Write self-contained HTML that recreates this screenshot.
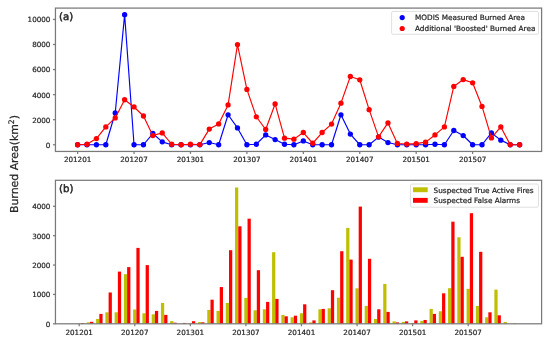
<!DOCTYPE html><html><head><meta charset="utf-8"><style>html,body{margin:0;padding:0;background:#fff;}svg{display:block;}text{font-family:"DejaVu Sans","Liberation Sans",sans-serif;fill:#262626;stroke:#262626;stroke-width:0.22px;text-rendering:geometricPrecision;}</style></head><body>
<svg width="550" height="344" viewBox="0 0 550 344">
<rect width="550" height="344" fill="#fff"/>
<polyline points="77.6,144.75 87,144.75 96.41,144.75 105.81,144.75 115.22,112.97 124.62,14.64 134.03,144.75 143.44,144.75 152.84,133.52 162.25,141.87 171.65,144.75 181.06,144.75 190.46,144.75 199.86,144.75 209.27,142.54 218.67,144.75 228.08,114.78 237.48,127.91 246.89,144.75 256.29,144.25 265.7,134.93 275.11,139.54 284.51,144.25 293.91,144.75 303.32,140.94 312.72,144.75 322.13,144.75 331.53,144.75 340.94,114.78 350.35,134.12 359.75,144.75 369.15,144.75 378.56,137.11 387.96,142.54 397.37,144.75 406.77,144.75 416.18,144.75 425.58,144.75 434.99,144.25 444.39,144.75 453.8,130.52 463.2,135.53 472.61,144.75 482.01,144.75 491.42,132.92 500.82,140.14 510.23,144.75 519.63,144.75" fill="none" stroke="#0000ff" stroke-width="1.15" stroke-linejoin="round"/>
<g fill="#0000ff"><circle cx="77.6" cy="144.75" r="2.65"/><circle cx="87" cy="144.75" r="2.65"/><circle cx="96.41" cy="144.75" r="2.65"/><circle cx="105.81" cy="144.75" r="2.65"/><circle cx="115.22" cy="112.97" r="2.65"/><circle cx="124.62" cy="14.64" r="2.65"/><circle cx="134.03" cy="144.75" r="2.65"/><circle cx="143.44" cy="144.75" r="2.65"/><circle cx="152.84" cy="133.52" r="2.65"/><circle cx="162.25" cy="141.87" r="2.65"/><circle cx="171.65" cy="144.75" r="2.65"/><circle cx="181.06" cy="144.75" r="2.65"/><circle cx="190.46" cy="144.75" r="2.65"/><circle cx="199.86" cy="144.75" r="2.65"/><circle cx="209.27" cy="142.54" r="2.65"/><circle cx="218.67" cy="144.75" r="2.65"/><circle cx="228.08" cy="114.78" r="2.65"/><circle cx="237.48" cy="127.91" r="2.65"/><circle cx="246.89" cy="144.75" r="2.65"/><circle cx="256.29" cy="144.25" r="2.65"/><circle cx="265.7" cy="134.93" r="2.65"/><circle cx="275.11" cy="139.54" r="2.65"/><circle cx="284.51" cy="144.25" r="2.65"/><circle cx="293.91" cy="144.75" r="2.65"/><circle cx="303.32" cy="140.94" r="2.65"/><circle cx="312.72" cy="144.75" r="2.65"/><circle cx="322.13" cy="144.75" r="2.65"/><circle cx="331.53" cy="144.75" r="2.65"/><circle cx="340.94" cy="114.78" r="2.65"/><circle cx="350.35" cy="134.12" r="2.65"/><circle cx="359.75" cy="144.75" r="2.65"/><circle cx="369.15" cy="144.75" r="2.65"/><circle cx="378.56" cy="137.11" r="2.65"/><circle cx="387.96" cy="142.54" r="2.65"/><circle cx="397.37" cy="144.75" r="2.65"/><circle cx="406.77" cy="144.75" r="2.65"/><circle cx="416.18" cy="144.75" r="2.65"/><circle cx="425.58" cy="144.75" r="2.65"/><circle cx="434.99" cy="144.25" r="2.65"/><circle cx="444.39" cy="144.75" r="2.65"/><circle cx="453.8" cy="130.52" r="2.65"/><circle cx="463.2" cy="135.53" r="2.65"/><circle cx="472.61" cy="144.75" r="2.65"/><circle cx="482.01" cy="144.75" r="2.65"/><circle cx="491.42" cy="132.92" r="2.65"/><circle cx="500.82" cy="140.14" r="2.65"/><circle cx="510.23" cy="144.75" r="2.65"/><circle cx="519.63" cy="144.75" r="2.65"/></g>
<polyline points="77.6,144.75 87,144.25 96.41,138.54 105.81,126.91 115.22,117.89 124.62,99.74 134.03,106.96 143.44,115.98 152.84,135.53 162.25,132.92 171.65,144.25 181.06,144.75 190.46,144.25 199.86,144.62 209.27,129.11 218.67,123.9 228.08,104.95 237.48,44.61 246.89,89.42 256.29,116.78 265.7,129.51 275.11,103.95 284.51,138.13 293.91,139.14 303.32,132.52 312.72,143.25 322.13,132.52 331.53,124.1 340.94,103.15 350.35,76.49 359.75,79.79 369.15,109.67 378.56,136.93 387.96,122.9 397.37,143.45 406.77,144.05 416.18,143.65 425.58,142.14 434.99,134.93 444.39,126.91 453.8,86.41 463.2,79.59 472.61,82.8 482.01,106.46 491.42,137.93 500.82,126.91 510.23,144.65 519.63,144.75" fill="none" stroke="#ff0000" stroke-width="1.15" stroke-linejoin="round"/>
<g fill="#ff0000"><circle cx="77.6" cy="144.75" r="2.65"/><circle cx="87" cy="144.25" r="2.65"/><circle cx="96.41" cy="138.54" r="2.65"/><circle cx="105.81" cy="126.91" r="2.65"/><circle cx="115.22" cy="117.89" r="2.65"/><circle cx="124.62" cy="99.74" r="2.65"/><circle cx="134.03" cy="106.96" r="2.65"/><circle cx="143.44" cy="115.98" r="2.65"/><circle cx="152.84" cy="135.53" r="2.65"/><circle cx="162.25" cy="132.92" r="2.65"/><circle cx="171.65" cy="144.25" r="2.65"/><circle cx="181.06" cy="144.75" r="2.65"/><circle cx="190.46" cy="144.25" r="2.65"/><circle cx="199.86" cy="144.62" r="2.65"/><circle cx="209.27" cy="129.11" r="2.65"/><circle cx="218.67" cy="123.9" r="2.65"/><circle cx="228.08" cy="104.95" r="2.65"/><circle cx="237.48" cy="44.61" r="2.65"/><circle cx="246.89" cy="89.42" r="2.65"/><circle cx="256.29" cy="116.78" r="2.65"/><circle cx="265.7" cy="129.51" r="2.65"/><circle cx="275.11" cy="103.95" r="2.65"/><circle cx="284.51" cy="138.13" r="2.65"/><circle cx="293.91" cy="139.14" r="2.65"/><circle cx="303.32" cy="132.52" r="2.65"/><circle cx="312.72" cy="143.25" r="2.65"/><circle cx="322.13" cy="132.52" r="2.65"/><circle cx="331.53" cy="124.1" r="2.65"/><circle cx="340.94" cy="103.15" r="2.65"/><circle cx="350.35" cy="76.49" r="2.65"/><circle cx="359.75" cy="79.79" r="2.65"/><circle cx="369.15" cy="109.67" r="2.65"/><circle cx="378.56" cy="136.93" r="2.65"/><circle cx="387.96" cy="122.9" r="2.65"/><circle cx="397.37" cy="143.45" r="2.65"/><circle cx="406.77" cy="144.05" r="2.65"/><circle cx="416.18" cy="143.65" r="2.65"/><circle cx="425.58" cy="142.14" r="2.65"/><circle cx="434.99" cy="134.93" r="2.65"/><circle cx="444.39" cy="126.91" r="2.65"/><circle cx="453.8" cy="86.41" r="2.65"/><circle cx="463.2" cy="79.59" r="2.65"/><circle cx="472.61" cy="82.8" r="2.65"/><circle cx="482.01" cy="106.46" r="2.65"/><circle cx="491.42" cy="137.93" r="2.65"/><circle cx="500.82" cy="126.91" r="2.65"/><circle cx="510.23" cy="144.65" r="2.65"/><circle cx="519.63" cy="144.75" r="2.65"/></g>
<rect x="55.45" y="8.1" width="486.15000000000003" height="143.35" fill="none" stroke="#7a7a7a" stroke-width="1.25"/>
<g stroke="#7a7a7a" stroke-width="1.25"><line x1="52.95" y1="144.75" x2="55.45" y2="144.75"/><line x1="52.95" y1="119.69" x2="55.45" y2="119.69"/><line x1="52.95" y1="94.63" x2="55.45" y2="94.63"/><line x1="52.95" y1="69.57" x2="55.45" y2="69.57"/><line x1="52.95" y1="44.51" x2="55.45" y2="44.51"/><line x1="52.95" y1="19.45" x2="55.45" y2="19.45"/></g>
<g font-size="7.2"><text x="50.45" y="147.65" text-anchor="end">0</text><text x="50.45" y="122.59" text-anchor="end">2000</text><text x="50.45" y="97.53" text-anchor="end">4000</text><text x="50.45" y="72.47" text-anchor="end">6000</text><text x="50.45" y="47.41" text-anchor="end">8000</text><text x="50.45" y="22.35" text-anchor="end">10000</text></g>
<g stroke="#7a7a7a" stroke-width="1.25"><line x1="77.6" y1="151.45" x2="77.6" y2="153.95"/><line x1="134.03" y1="151.45" x2="134.03" y2="153.95"/><line x1="190.46" y1="151.45" x2="190.46" y2="153.95"/><line x1="246.89" y1="151.45" x2="246.89" y2="153.95"/><line x1="303.32" y1="151.45" x2="303.32" y2="153.95"/><line x1="359.75" y1="151.45" x2="359.75" y2="153.95"/><line x1="416.18" y1="151.45" x2="416.18" y2="153.95"/><line x1="472.61" y1="151.45" x2="472.61" y2="153.95"/></g>
<g font-size="7.2"><text x="77.6" y="162.04999999999998" text-anchor="middle">201201</text><text x="134.03" y="162.04999999999998" text-anchor="middle">201207</text><text x="190.46" y="162.04999999999998" text-anchor="middle">201301</text><text x="246.89" y="162.04999999999998" text-anchor="middle">201307</text><text x="303.32" y="162.04999999999998" text-anchor="middle">201401</text><text x="359.75" y="162.04999999999998" text-anchor="middle">201407</text><text x="416.18" y="162.04999999999998" text-anchor="middle">201501</text><text x="472.61" y="162.04999999999998" text-anchor="middle">201507</text></g>
<text x="59.0" y="20.0" font-size="10.2" style="stroke-width:0.45px">(a)</text>
<rect x="391.6" y="11.4" width="146.9" height="22.9" rx="1.5" fill="#fff" fill-opacity="0.8" stroke="#d8d8d8" stroke-width="0.8"/>
<circle cx="402.2" cy="17.6" r="2.6" fill="#0000ff"/><circle cx="402.2" cy="28.5" r="2.6" fill="#ff0000"/>
<g font-size="7.3"><text x="415" y="20.4">MODIS Measured Burned Area</text><text x="415" y="31.1">Additional 'Boosted' Burned Area</text></g>
<g fill="#bfbf00"><rect x="86.84" y="322.33" width="3.24" height="1.47"/><rect x="96.1" y="318.95" width="3.24" height="4.85"/><rect x="105.37" y="312.31" width="3.24" height="11.49"/><rect x="114.63" y="312.31" width="3.24" height="11.49"/><rect x="123.89" y="274.19" width="3.24" height="49.61"/><rect x="133.15" y="309.49" width="3.24" height="14.31"/><rect x="142.41" y="313.31" width="3.24" height="10.49"/><rect x="151.68" y="314.31" width="3.24" height="9.49"/><rect x="160.94" y="302.91" width="3.24" height="20.89"/><rect x="170.2" y="321.1" width="3.24" height="2.7"/><rect x="188.72" y="323.07" width="3.24" height="0.73"/><rect x="197.99" y="322.1" width="3.24" height="1.7"/><rect x="207.25" y="309.91" width="3.24" height="13.89"/><rect x="216.51" y="310.9" width="3.24" height="12.9"/><rect x="225.77" y="302.91" width="3.24" height="20.89"/><rect x="235.03" y="187.5" width="3.24" height="136.3"/><rect x="244.3" y="297.92" width="3.24" height="25.88"/><rect x="253.56" y="310.32" width="3.24" height="13.48"/><rect x="262.82" y="309.29" width="3.24" height="14.51"/><rect x="272.08" y="252.21" width="3.24" height="71.59"/><rect x="281.34" y="314.9" width="3.24" height="8.9"/><rect x="290.61" y="317.31" width="3.24" height="6.49"/><rect x="299.87" y="313.31" width="3.24" height="10.49"/><rect x="309.13" y="322.39" width="3.24" height="1.41"/><rect x="318.39" y="309.29" width="3.24" height="14.51"/><rect x="327.65" y="308.29" width="3.24" height="15.51"/><rect x="336.92" y="297.72" width="3.24" height="26.08"/><rect x="346.18" y="227.89" width="3.24" height="95.91"/><rect x="355.44" y="288.29" width="3.24" height="35.51"/><rect x="364.7" y="305.91" width="3.24" height="17.89"/><rect x="373.96" y="318.95" width="3.24" height="4.85"/><rect x="383.23" y="283.91" width="3.24" height="39.89"/><rect x="392.49" y="321.39" width="3.24" height="2.41"/><rect x="401.75" y="321.89" width="3.24" height="1.91"/><rect x="411.01" y="322.92" width="3.24" height="0.88"/><rect x="420.27" y="320.89" width="3.24" height="2.91"/><rect x="429.54" y="308.91" width="3.24" height="14.89"/><rect x="438.8" y="311.29" width="3.24" height="12.51"/><rect x="448.06" y="288.2" width="3.24" height="35.6"/><rect x="457.32" y="237.29" width="3.24" height="86.51"/><rect x="466.58" y="288.81" width="3.24" height="34.99"/><rect x="475.85" y="305.91" width="3.24" height="17.89"/><rect x="485.11" y="317.31" width="3.24" height="6.49"/><rect x="494.37" y="289.61" width="3.24" height="34.19"/><rect x="503.63" y="321.89" width="3.24" height="1.91"/><rect x="512.89" y="323.36" width="3.24" height="0.44"/></g>
<g fill="#ff0000"><rect x="80.82" y="323.01" width="3.24" height="0.79"/><rect x="90.08" y="321.8" width="3.24" height="2"/><rect x="99.34" y="313.9" width="3.24" height="9.9"/><rect x="108.61" y="292.49" width="3.24" height="31.31"/><rect x="117.87" y="271.6" width="3.24" height="52.2"/><rect x="127.13" y="267.11" width="3.24" height="56.69"/><rect x="136.39" y="247.9" width="3.24" height="75.91"/><rect x="145.65" y="265.11" width="3.24" height="58.69"/><rect x="154.92" y="310.9" width="3.24" height="12.9"/><rect x="164.18" y="314.9" width="3.24" height="8.9"/><rect x="173.44" y="322.71" width="3.24" height="1.09"/><rect x="182.7" y="322.92" width="3.24" height="0.88"/><rect x="191.96" y="321.22" width="3.24" height="2.58"/><rect x="201.23" y="322.33" width="3.24" height="1.47"/><rect x="210.49" y="299.68" width="3.24" height="24.12"/><rect x="219.75" y="287.08" width="3.24" height="36.72"/><rect x="229.01" y="250.19" width="3.24" height="73.61"/><rect x="238.27" y="226.3" width="3.24" height="97.5"/><rect x="247.54" y="218.7" width="3.24" height="105.1"/><rect x="256.8" y="270.19" width="3.24" height="53.61"/><rect x="266.06" y="301.89" width="3.24" height="21.91"/><rect x="275.32" y="298.89" width="3.24" height="24.91"/><rect x="284.58" y="316.31" width="3.24" height="7.49"/><rect x="293.85" y="315.69" width="3.24" height="8.11"/><rect x="303.11" y="304.3" width="3.24" height="19.5"/><rect x="312.37" y="320.39" width="3.24" height="3.41"/><rect x="321.63" y="308.91" width="3.24" height="14.89"/><rect x="330.89" y="290.19" width="3.24" height="33.61"/><rect x="340.16" y="251.21" width="3.24" height="72.59"/><rect x="349.42" y="259.59" width="3.24" height="64.21"/><rect x="358.68" y="206.59" width="3.24" height="117.21"/><rect x="367.94" y="258.79" width="3.24" height="65.01"/><rect x="377.2" y="309.29" width="3.24" height="14.51"/><rect x="386.47" y="311.9" width="3.24" height="11.9"/><rect x="395.73" y="322.39" width="3.24" height="1.41"/><rect x="404.99" y="321.39" width="3.24" height="2.41"/><rect x="414.25" y="320.39" width="3.24" height="3.41"/><rect x="423.51" y="319.98" width="3.24" height="3.82"/><rect x="432.78" y="313.9" width="3.24" height="9.9"/><rect x="442.04" y="293.31" width="3.24" height="30.49"/><rect x="451.3" y="221.69" width="3.24" height="102.11"/><rect x="460.56" y="256.8" width="3.24" height="67"/><rect x="469.82" y="213.2" width="3.24" height="110.6"/><rect x="479.09" y="251.8" width="3.24" height="72"/><rect x="488.35" y="312.31" width="3.24" height="11.49"/><rect x="497.61" y="315.31" width="3.24" height="8.49"/></g>
<rect x="55.45" y="180.3" width="486.15000000000003" height="143.5" fill="none" stroke="#7a7a7a" stroke-width="1.25"/>
<g stroke="#7a7a7a" stroke-width="1.25"><line x1="52.95" y1="323.8" x2="55.45" y2="323.8"/><line x1="52.95" y1="294.43" x2="55.45" y2="294.43"/><line x1="52.95" y1="265.05" x2="55.45" y2="265.05"/><line x1="52.95" y1="235.68" x2="55.45" y2="235.68"/><line x1="52.95" y1="206.3" x2="55.45" y2="206.3"/></g>
<g font-size="7.2"><text x="50.45" y="326.7" text-anchor="end">0</text><text x="50.45" y="297.32" text-anchor="end">1000</text><text x="50.45" y="267.95" text-anchor="end">2000</text><text x="50.45" y="238.58" text-anchor="end">3000</text><text x="50.45" y="209.2" text-anchor="end">4000</text></g>
<g stroke="#7a7a7a" stroke-width="1.25"><line x1="79.2" y1="323.8" x2="79.2" y2="326.3"/><line x1="134.77" y1="323.8" x2="134.77" y2="326.3"/><line x1="190.34" y1="323.8" x2="190.34" y2="326.3"/><line x1="245.92" y1="323.8" x2="245.92" y2="326.3"/><line x1="301.49" y1="323.8" x2="301.49" y2="326.3"/><line x1="357.06" y1="323.8" x2="357.06" y2="326.3"/><line x1="412.63" y1="323.8" x2="412.63" y2="326.3"/><line x1="468.2" y1="323.8" x2="468.2" y2="326.3"/></g>
<g font-size="7.2"><text x="79.2" y="335.1" text-anchor="middle">201201</text><text x="134.77" y="335.1" text-anchor="middle">201207</text><text x="190.34" y="335.1" text-anchor="middle">201301</text><text x="245.92" y="335.1" text-anchor="middle">201307</text><text x="301.49" y="335.1" text-anchor="middle">201401</text><text x="357.06" y="335.1" text-anchor="middle">201407</text><text x="412.63" y="335.1" text-anchor="middle">201501</text><text x="468.2" y="335.1" text-anchor="middle">201507</text></g>
<text x="59.0" y="192.0" font-size="10.2" style="stroke-width:0.45px">(b)</text>
<rect x="410.5" y="184" width="128" height="23.2" rx="1.5" fill="#fff" fill-opacity="0.8" stroke="#d8d8d8" stroke-width="0.8"/>
<rect x="413" y="187.3" width="14.7" height="4.9" fill="#bfbf00"/><rect x="413" y="197.9" width="14.7" height="4.9" fill="#ff0000"/>
<g font-size="7.3"><text x="433.6" y="192.6">Suspected True Active Fires</text><text x="433.6" y="202.8">Suspected False Alarms</text></g>
<text transform="translate(18,213.0) rotate(-90)" font-size="10.9">Burned Area(km<tspan font-size="7.63" dy="-4">2</tspan><tspan dy="4">)</tspan></text>
</svg></body></html>
